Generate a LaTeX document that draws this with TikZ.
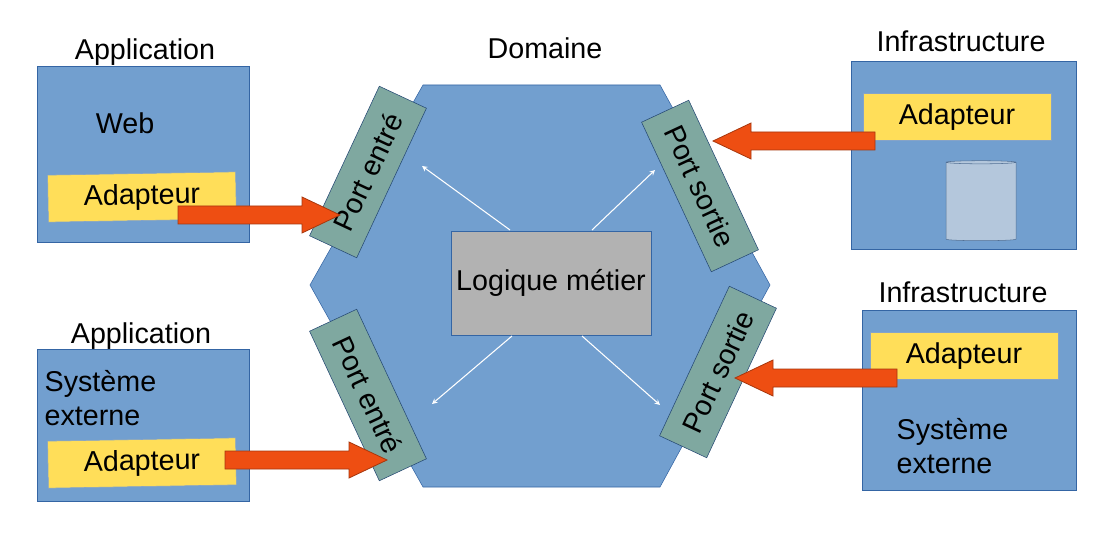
\documentclass[tikz,border=0pt]{standalone}
\usepackage{fontspec}
\setmainfont{Liberation Sans}
\usetikzlibrary{shapes.geometric}
\definecolor{bl}{HTML}{729FCF}
\definecolor{bld}{HTML}{3465A4}
\definecolor{yl}{HTML}{FFDE59}
\definecolor{gr}{HTML}{7FA8A0}
\definecolor{or}{HTML}{EE4E12}
\definecolor{cy}{HTML}{B4C7DC}
\begin{document}
\begin{tikzpicture}[x=0.75pt,y=-0.75pt,font=\fontsize{21.5}{25}\selectfont,
 box/.style={draw=bld,fill=bl},
 adapt/.style={draw=bld!60,fill=yl,minimum width=188*0.75pt,minimum height=47*0.75pt,inner sep=0pt},
 port/.style={draw=bld!70!black,fill=gr,minimum width=165*0.75pt,minimum height=52*0.75pt,inner sep=0pt},
 big/.style={draw=or!70!black,fill=or,line width=0.6pt},
 thin/.style={white,line width=0.8pt,-stealth}]
\useasboundingbox (0,0) rectangle (1112,541);
\fill[white] (0,0) rectangle (1112,541);
% hexagon
\draw[box] (423,85) -- (660,85) -- (770,285) -- (660,487) -- (423,487) -- (310,285) -- cycle;
\node at (545,48) {Domaine};
\node[draw=bld,fill=gray!60!white,minimum width=200*0.75pt,minimum height=104*0.75pt,inner sep=0pt] (logic) at (551,283) {Logique métier};
% boxes
\draw[box] (37,66) rectangle (249,242);
\node at (145,52) {Application};
\node at (125,123) {Web};
\node[adapt,rotate=1] (a1) at (142,197) {Adapteur};
\draw[box] (37,349) rectangle (249,501);
\node at (141,336) {Application};
\node[align=left,anchor=north west] at (40,366) {Système\\externe};
\node[adapt,rotate=1] (a2) at (142,463) {Adapteur};
\draw[box] (851,61) rectangle (1076,249);
\node at (961,41) {Infrastructure};
\node[adapt] (a3) at (957,117) {Adapteur};
\node[draw=bld!60!gray,fill=cy,cylinder,shape border rotate=90,aspect=0.35,minimum width=70*0.75pt,minimum height=80*0.75pt] (db) at (981,202) {};
\draw[box] (862,310) rectangle (1076,490);
\node at (963,292) {Infrastructure};
\node[adapt] (a4) at (964,356) {Adapteur};
\node[align=left,anchor=north west] at (892,414) {Système\\externe};
% ports
\node[port,rotate=65] (p1) at (368,172) {Port entré};
\node[port,rotate=-65] (p2) at (368,395) {Port entré};
\node[port,rotate=-65] (p3) at (700,186) {Port sortie};
\node[port,rotate=65] (p4) at (718,372) {Port sortie};
% thin arrows
\draw[thin] (510,230) -- (422,166);
\draw[thin] (592,230) -- (655,170);
\draw[thin] (512,336) -- (432,404);
\draw[thin] (582,336) -- (660,405);
% big arrows
\newcommand{\bigarrow}[3]{% x1 x2 y
 \draw[big] (#1,#3-9) -- ({#2-(#2-#1)/abs(#2-#1)*38},#3-9) -- ({#2-(#2-#1)/abs(#2-#1)*38},#3-18) -- (#2,#3) -- ({#2-(#2-#1)/abs(#2-#1)*38},#3+18) -- ({#2-(#2-#1)/abs(#2-#1)*38},#3+9) -- (#1,#3+9) -- cycle;}
\bigarrow{178}{340}{215}
\bigarrow{225}{387}{460}
\bigarrow{875}{713}{141}
\bigarrow{897}{735}{378}
\end{tikzpicture}
\end{document}
